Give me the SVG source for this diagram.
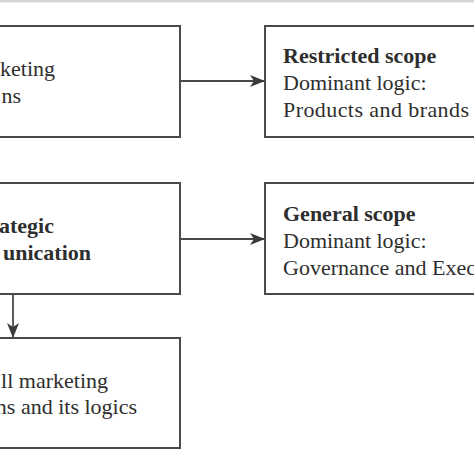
<svg xmlns="http://www.w3.org/2000/svg" width="474" height="474" viewBox="0 0 474 474">
<style>
.box{fill:#fff;stroke:#4a4a4a;stroke-width:2}
.lnk{fill:none;stroke:#4a4a4a;stroke-width:1.8}
text{font-family:"Liberation Serif","Times New Roman",serif;font-size:22px;fill:#2e2e2e}
.b{font-weight:bold}
</style>
<defs>
<marker id="ah" viewBox="0 0 15 12" refX="15" refY="6" markerWidth="15" markerHeight="12" markerUnits="userSpaceOnUse" orient="auto">
<path d="M0,0 L15,6 L0,12 L4,6 Z" fill="#3a3a3a"/>
</marker>
</defs>
<rect x="0" y="0" width="474" height="474" fill="#fff"/>
<rect x="0" y="0" width="474" height="2.5" fill="#d6d6d6"/>
<g id="connectors">
<line class="lnk" x1="180" y1="81" x2="265" y2="81" marker-end="url(#ah)"/>
<line class="lnk" x1="180" y1="239" x2="265" y2="239" marker-end="url(#ah)"/>
<line class="lnk" x1="13" y1="294" x2="13" y2="338" marker-end="url(#ah)"/>
</g>
<g id="traditional">
<rect class="box" x="-10" y="26" width="190" height="111"/>
<text x="55" y="76" text-anchor="end">keting</text>
<text x="21" y="103" text-anchor="end">ns</text>
</g>
<g id="restricted">
<rect class="box" x="265" y="26" width="230" height="111"/>
<text class="b" x="283" y="63">Restricted scope</text>
<text x="283" y="90">Dominant logic:</text>
<text x="283" y="117" textLength="186">Products and brands</text>
</g>
<g id="strategic">
<rect class="box" x="-10" y="183" width="190" height="111"/>
<text class="b" x="54" y="233" text-anchor="end">ategic</text>
<text class="b" x="91" y="260" text-anchor="end">unication</text>
</g>
<g id="general">
<rect class="box" x="265" y="183" width="230" height="111"/>
<text class="b" x="283" y="221">General scope</text>
<text x="283" y="248">Dominant logic:</text>
<text x="283" y="275">Governance and Exec</text>
</g>
<g id="all">
<rect class="box" x="-10" y="338" width="190" height="110"/>
<text x="108" y="388" text-anchor="end">ll marketing</text>
<text x="137" y="414" text-anchor="end">ns and its logics</text>
</g>
</svg>
